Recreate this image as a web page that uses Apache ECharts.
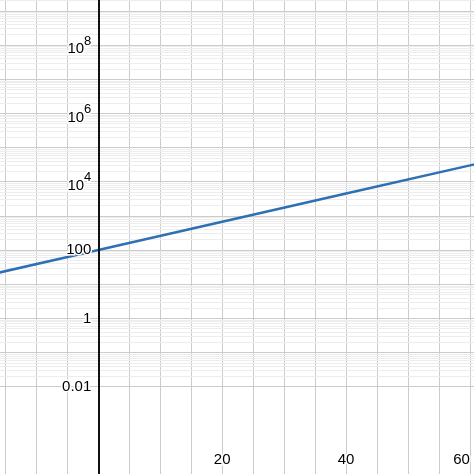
<!DOCTYPE html>
<html>
<head>
<meta charset="utf-8">
<script src="https://cdn.jsdelivr.net/npm/echarts@6/dist/echarts.min.js"></script>
<style>
  html, body { margin: 0; padding: 0; background: #fff; }
  #main { width: 474px; height: 474px; }
</style>
</head>
<body>
<div id="main"></div>
<script>
// points (x, y)
var xValues = [-20, 0, 20, 40, 60, 65]
var yValues = [15, 100, 670, 4500, 30000, 49000]
// labelled ticks
var xTickLabels = [20, 40, 60]
var yTickExps = [8, 6, 4, 2, 0, -2]

var lineData = xValues.map(function (x, i) { return [x, yValues[i]] })

// horizontal grid: darker at each decade, light at 2..9
var hLines = []
for (var e = -5; e < 10; e++) {
  for (var k = 1; k <= 9; k++) {
    hLines.push({
      yAxis: k === 1 ? Number('1e' + e) : k * Math.pow(10, e),
      lineStyle: { color: k === 1 ? '#cccccc' : '#ededed' }
    })
  }
}

var labelFont = '"Liberation Sans", Arial, sans-serif'
var gridLeft = -25.6

var option = {
  backgroundColor: '#fff',
  animation: false,
  grid: {
    left: gridLeft,
    right: -27,
    top: -23.3,
    bottom: -15.2,
    containLabel: false,
    outerBoundsMode: 'none'
  },
  xAxis: {
    type: 'value',
    z: 3,
    min: -20,
    max: 65,
    interval: 5,
    axisLine: { show: false },
    axisTick: { show: false },
    splitLine: { show: true, lineStyle: { color: '#cccccc', width: 1 } },
    axisLabel: {
      inside: true,
      margin: 22,
      fontSize: 15,
      fontFamily: labelFont,
      color: '#000',
      textBorderColor: '#fff',
      textBorderWidth: 3,
      formatter: function (v) {
        if (xTickLabels.indexOf(v) < 0) return ''
        if (v === 60) return '{r|60}'
        return String(v)
      },
      rich: {
        r: { fontSize: 15, fontFamily: labelFont, color: '#000', padding: [0, 17, 0, 0] }
      }
    }
  },
  yAxis: {
    type: 'log',
    z: 10,
    logBase: 10,
    min: 1e-5,
    max: 1e10,
    interval: 1,
    // put the axis on x = 0
    offset: gridLeft - 98.3,
    axisLine: { show: true, onZero: false, lineStyle: { color: '#111', width: 2 } },
    axisTick: { show: false },
    splitLine: { show: false },
    axisLabel: {
      margin: 7,
      fontSize: 15,
      fontFamily: labelFont,
      color: '#000',
      textBorderColor: '#fff',
      textBorderWidth: 3,
      formatter: function (v) {
        var ex = Math.round(Math.log10(v))
        if (yTickExps.indexOf(ex) < 0) return ''
        if (ex === 2) return '100'
        if (ex === 0) return '1'
        if (ex === -2) return '0.01'
        return '{b|10}{s|' + ex + '}'
      },
      rich: {
        b: { fontSize: 15, fontFamily: labelFont, color: '#000', padding: [8, 0, 0, 0] },
        s: { fontSize: 13, fontFamily: labelFont, color: '#000', padding: [0, 0, 8, 0] }
      }
    }
  },
  series: [
    {
      type: 'line',
      data: [],
      silent: true,
      z: 1,
      markLine: {
        silent: true,
        symbol: 'none',
        label: { show: false },
        lineStyle: { width: 1, type: 'solid' },
        data: hLines
      }
    },
    {
      type: 'line',
      data: lineData,
      showSymbol: false,
      z: 5,
      lineStyle: { color: '#2d70b3', width: 2.5 }
    }
  ]
}

var chart = echarts.init(document.getElementById('main'))
chart.setOption(option)
</script>
</body>
</html>
